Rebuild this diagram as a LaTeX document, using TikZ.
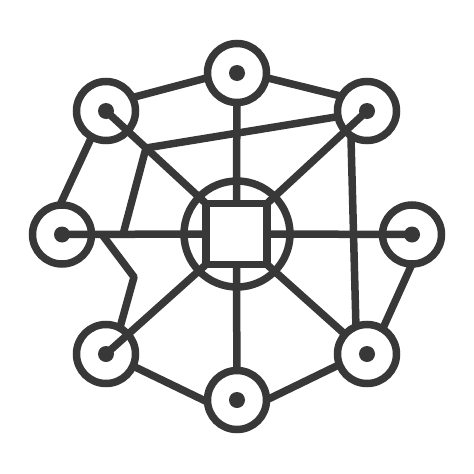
\documentclass[tikz,border=0pt]{standalone}
\usetikzlibrary{calc}
\definecolor{ink}{RGB}{56,56,56}
\begin{document}
\begin{tikzpicture}[x=1pt,y=-1pt,
  hub/.style={circle,draw=ink,line width=7.5pt,minimum size=59pt,inner sep=0pt,outer sep=0pt},
  dotnode/.style={circle,fill=ink,minimum size=16pt,inner sep=0pt,outer sep=0pt},
  link/.style={draw=ink,line width=7.5pt,line join=round}]
\useasboundingbox[fill=white] (0,0) rectangle (474,474);
% centre
\node[circle,draw=ink,line width=7.5pt,minimum size=106pt,inner sep=0pt,outer sep=0pt] (big) at (237,234) {};
\node[rectangle,draw=ink,line width=7.5pt,minimum size=61pt,inner sep=0pt,outer sep=0pt] (sq) at (236.5,234) {};
% outer nodes
\node[hub] (t)  at (237,73) {};
\node[hub] (ul) at (106,111) {};
\node[hub] (ur) at (367,111) {};
\node[hub] (l)  at (62,234.5) {};
\node[hub] (r)  at (412,234.5) {};
\node[hub] (ll) at (106,354) {};
\node[hub] (lr) at (367,354) {};
\node[hub] (b)  at (237,400) {};
\foreach \n in {t,ul,ur,l,r,ll,lr,b} \node[dotnode] (\n d) at (\n) {};
% spokes
\draw[link] (uld.center) -- (sq.north west);
\draw[link] (urd.center) -- (sq.north east);
\draw[link] (lld.center) -- (sq.south west);
\draw[link] (sq.south east) -- (lr);
\draw[link] (ld.center) -- (sq.west);
\draw[link] (sq.east) -- (rd.center);
\draw[link] (t) -- (sq.north);
\draw[link] (sq.south) -- (b);
% ring links
\draw[link] (ul.27) -- (t.189);
\draw[link] (t.351) -- (ur.150);
\draw[link] (l.94) -- (ul.241);
\draw[link] (ll.336) -- (b.184);
\draw[link] (b.0) -- (lr.201);
\draw[link] (lr.58) -- (r.270);
\draw[link] (ur.237) -- (lr.112);
% inner cross links
\coordinate (j1) at ($(uld)!0.40!(sq.north west)$);
\coordinate (j2) at (123,234.5);
\coordinate (j3) at (102,234.5);
\coordinate (j4) at (134,277);
\draw[link] (ur.191) -- (j1);
\draw[link] (j1) -- (j2);
\draw[link] (j3) -- (j4) -- (ll.62);
\end{tikzpicture}
\end{document}
